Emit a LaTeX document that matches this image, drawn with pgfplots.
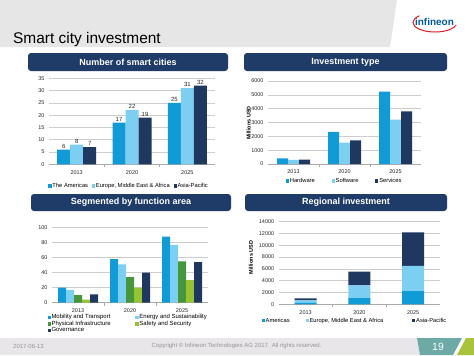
\documentclass[border=0pt]{standalone}
\usepackage{fontspec}
\setmainfont{Liberation Sans}
\usepackage{pgfplots}
\pgfplotsset{compat=1.18}
\definecolor{cA}{RGB}{16,155,215}
\definecolor{cB}{RGB}{125,207,242}
\definecolor{cC}{RGB}{31,56,96}
\definecolor{cD}{RGB}{70,150,60}
\definecolor{cE}{RGB}{150,195,50}
\definecolor{panelblue}{RGB}{31,60,105}
\definecolor{hdrgray}{RGB}{230,230,230}
\definecolor{footgray}{RGB}{232,230,232}
\definecolor{foottext}{RGB}{150,150,150}
\definecolor{teal}{RGB}{110,170,165}
\definecolor{lgreen}{RGB}{170,195,60}
\definecolor{gridgray}{RGB}{205,205,205}
\definecolor{axgray}{RGB}{170,170,170}
\definecolor{logoblue}{RGB}{0,90,160}
\definecolor{logored}{RGB}{215,30,40}
\pgfplotsset{
  sqlegend/.style={legend image code/.code={\fill[##1,/tikz/.cd,draw=none] (0bp,-1.6bp) rectangle (3.2bp,1.6bp);}},
  base/.style={
    scale only axis, anchor=south west,
    axis x line*=bottom, axis y line*=left,
    y axis line style={draw=none},
    x axis line style={draw=axgray, line width=0.6bp},
    ymajorgrids, grid style={draw=gridgray, line width=0.5bp},
    major tick length=0pt,
    tick style={draw=axgray, line width=0.5bp},
    xtick={0,1,2}, xticklabels={2013,2020,2025},
    xmin=-0.5, xmax=2.5, ymin=0,
    scaled y ticks=false,
    ticklabel style={font=\fontsize{5.5}{6}\selectfont, text=black!85},
    /pgf/number format/assume math mode=true,
    /pgf/number format/1000 sep={},
    extra x ticks={0.5,1.5},
    extra x tick labels={},
    extra x tick style={major tick length=3bp, tick align=outside},
    xticklabel style={yshift=-2.5bp},
    yticklabel style={xshift=-1bp},
    every axis plot post/.append style={sqlegend},
    legend style={draw=none, fill=none, font=\fontsize{5.8}{6.5}\selectfont,
      inner sep=0pt, nodes={inner xsep=0.8bp, inner ysep=0.4bp}},
    clip=false,
  }
}
\begin{document}
\begin{tikzpicture}[x=1bp,y=1bp]
\useasboundingbox (0,0) rectangle (474,355);
\fill[white] (0,0) rectangle (474,355);
% header
\fill[hdrgray] (0,355) -- (397,355) -- (390,308) -- (0,308) -- cycle;
\node[anchor=base west, font=\fontsize{15.5}{18}\selectfont, inner sep=0] at (13,311.7) {Smart city investment};
\node[font=\bfseries\fontsize{10}{12}\selectfont, text=logoblue, inner sep=0] at (434.5,333.5) {infineon};
\draw[logored, line width=1bp] (435,332.5) ++(135:22 and 9.5) arc[start angle=135, end angle=345, x radius=22, y radius=9.5];
% panel headers
\fill[panelblue, rounded corners=3bp] (28,302) rectangle (228,284);
\node[white, font=\bfseries\fontsize{9}{10}\selectfont] at (128,293) {Number of smart cities};
\fill[panelblue, rounded corners=3bp] (244,302) rectangle (447,284);
\node[white, font=\bfseries\fontsize{9}{10}\selectfont] at (345.5,293) {Investment type};
\fill[panelblue, rounded corners=3bp] (31,161) rectangle (231,144);
\node[white, font=\bfseries\fontsize{9}{10}\selectfont] at (131,152.5) {Segmented by function area};
\fill[panelblue, rounded corners=3bp] (245,161) rectangle (447,144);
\node[white, font=\bfseries\fontsize{9}{10}\selectfont] at (346,152.5) {Regional investment};
% footer
\fill[footgray] (0,0) -- (0,17) -- (417,17) -- (420,0) -- cycle;
\fill[teal] (417,17) -- (462,17) -- (453,0) -- (420,0) -- cycle;
\fill[lgreen] (466,17) -- (474,17) -- (474,0) -- (457,0) -- cycle;
\node[text=foottext, font=\fontsize{6}{7}\selectfont] at (28.5,9) {2017-06-13};
\node[text=foottext, font=\fontsize{6}{7}\selectfont] at (236.5,9) {Copyright © Infineon Technologies AG 2017. All rights reserved.};
\node[white, font=\fontsize{10.5}{12}\selectfont] at (438,8) {19};
% y labels
\node[rotate=90, font=\bfseries\fontsize{5.5}{6}\selectfont] at (248.7,232) {Millions USD};
\node[rotate=90, font=\bfseries\fontsize{5.5}{6}\selectfont] at (251,97.5) {Millions USD};

% chart 1
\begin{axis}[base, at={(49bp,190.7bp)}, width=166bp, height=86bp,
  ymax=35, ytick={0,5,...,35},
  ybar=0pt, bar width=13bp,
  nodes near coords,
  every node near coord/.append style={font=\fontsize{6}{7}\selectfont, text=black!85, inner sep=1.2bp},
  legend columns=3,
  legend style={at={(0.479,-0.252)}, anchor=center,
    /tikz/every even column/.append style={column sep=3bp}}]
\addplot[fill=cA, draw=none] coordinates {(0,6) (1,17) (2,25)};
\addplot[fill=cB, draw=none] coordinates {(0,8) (1,22) (2,31)};
\addplot[fill=cC, draw=none] coordinates {(0,7) (1,19) (2,32)};
\legend{The Americas, {Europe, Middle East \& Africa}, Asia-Pacific}
\end{axis}

% chart 2
\begin{axis}[base, at={(268bp,191bp)}, width=153bp, height=83bp,
  ymax=6000, ytick={0,1000,...,6000},
  ybar=0pt, bar width=11bp,
  legend columns=3,
  legend style={at={(0.497,-0.205)}, anchor=center,
    /tikz/every even column/.append style={column sep=16bp}}]
\addplot[fill=cA, draw=none] coordinates {(0,410) (1,2330) (2,5230)};
\addplot[fill=cB, draw=none] coordinates {(0,300) (1,1540) (2,3200)};
\addplot[fill=cC, draw=none] coordinates {(0,310) (1,1710) (2,3810)};
\legend{Hardware, Software, Services}
\end{axis}

% chart 3
\begin{axis}[base, at={(52bp,52.3bp)}, width=156bp, height=75bp,
  ymax=100, ytick={0,20,...,100},
  ybar=0pt, bar width=8bp,
  legend columns=2, legend cell align=left,
  legend style={at={(-0.03,-0.15)}, anchor=north west,
    font=\fontsize{6}{6.7}\selectfont,
    /tikz/every even column/.append style={column sep=24bp}}]
\addplot[fill=cA, draw=none] coordinates {(0,20) (1,58) (2,88)};
\addplot[fill=cB, draw=none] coordinates {(0,17) (1,51) (2,77)};
\addplot[fill=cD, draw=none] coordinates {(0,10) (1,34) (2,55)};
\addplot[fill=cE, draw=none] coordinates {(0,4) (1,20) (2,30)};
\addplot[fill=cC, draw=none] coordinates {(0,11) (1,40) (2,54)};
\legend{Mobility and Transport, Energy and Sustainability, Physical Infrastructure, Safety and Security, Governance}
\end{axis}

% chart 4
\begin{axis}[base, at={(278.7bp,50.7bp)}, width=161.3bp, height=82.6bp,
  ymax=14000, ytick={0,2000,...,14000},
  ybar stacked, bar width=22bp,
  legend columns=3,
  legend style={at={(-0.107,-0.199)}, anchor=west,
    /tikz/column 2/.style={column sep=15bp},
    /tikz/column 4/.style={column sep=28bp}}]
\addplot[fill=cA, draw=none] coordinates {(0,250) (1,1050) (2,2250)};
\addplot[fill=cB, draw=none] coordinates {(0,400) (1,2150) (2,4250)};
\addplot[fill=cC, draw=none] coordinates {(0,350) (1,2350) (2,5700)};
\legend{Americas, {Europe, Middle East \& Africa}, Asia-Pacific}
\end{axis}
\end{tikzpicture}
\end{document}
